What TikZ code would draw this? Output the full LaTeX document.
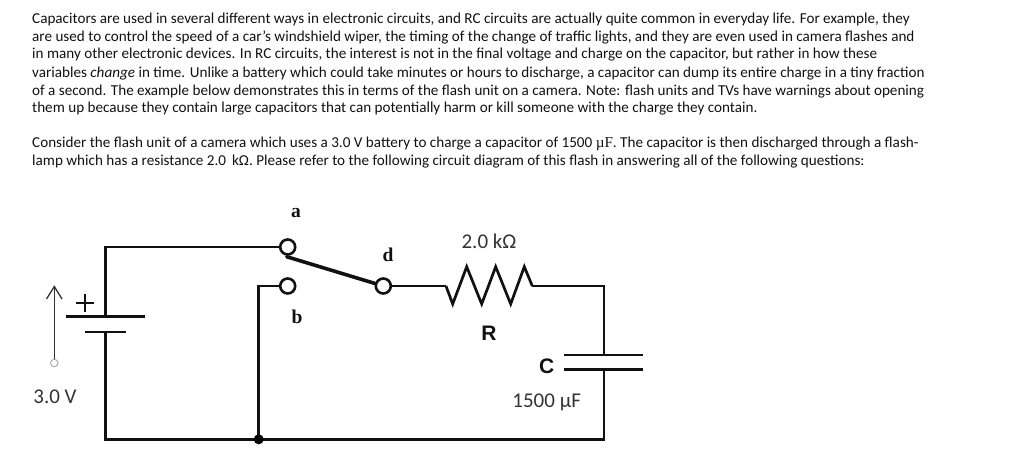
\documentclass[tikz,border=0pt]{standalone}
\usepackage{fontspec}
\setmainfont{Carlito}
\newfontfamily\labelserif{Liberation Serif}
\newfontfamily\labelsans{Liberation Sans}
\definecolor{ink}{HTML}{111111}
\definecolor{soft}{HTML}{333333}
\tikzset{
  para/.style={anchor=base west,inner sep=0pt,text=ink,font=\fontsize{15.15}{17}\selectfont},
  wire/.style={draw=ink,line width=2.7pt,line join=miter},
  plate/.style={draw=ink,line width=2.8pt},
  blade/.style={draw=ink,line width=3.6pt,line cap=round},
  terminal/.style={circle,draw=ink,line width=2.6pt,fill=white,minimum size=15pt,inner sep=0pt},
  junction/.style={circle,fill=black,minimum size=10pt,inner sep=0pt},
  letter/.style={inner sep=0pt,text=ink,font=\labelserif\bfseries\fontsize{19.5}{19}\selectfont},
  partname/.style={inner sep=0pt,text=ink,font=\labelsans\bfseries\fontsize{21}{21}\selectfont},
  value/.style={inner sep=0pt,text=soft,font=\fontsize{21}{21}\selectfont},
  corner/.style={inner sep=0pt,minimum size=0pt}
}
\begin{document}
\begin{tikzpicture}[x=1pt,y=-1pt]
\useasboundingbox (0,0) rectangle (1024,458);
\node[para] (l1) at (32,23.3) {Capacitors are used in several different ways in electronic circuits, and RC circuits are actually quite common in everyday life. For example, they};
\node[para] (l2) at (32,41) {are used to control the speed of a car’s windshield wiper, the timing of the change of traffic lights, and they are even used in camera flashes and};
\node[para] (l3) at (32,58.7) {in many other electronic devices. In RC circuits, the interest is not in the final voltage and charge on the capacitor, but rather in how these};
\node[para] (l4) at (32,77) {variables {\itshape change} in time. Unlike a battery which could take minutes or hours to discharge, a capacitor can dump its entire charge in a tiny fraction};
\node[para] (l5) at (32,95) {of a second. The example below demonstrates this in terms of the flash unit on a camera. Note: flash units and TVs have warnings about opening};
\node[para] (l6) at (32,112.5) {them up because they contain large capacitors that can potentially harm or kill someone with the charge they contain.};
\node[para] (l7) at (32,147.7) {Consider the flash unit of a camera which uses a 3.0 V battery to charge a capacitor of 1500 {\labelserif µF}. The capacitor is then discharged through a flash-};
\node[para] (l8) at (32,165.3) {lamp which has a resistance 2.0 \,kΩ. Please refer to the following circuit diagram of this flash in answering all of the following questions:};

% corners and junction
\coordinate (tl) at (105.3,247);
\coordinate (bl) at (105.3,439.3);
\coordinate (br) at (604,439.3);
\coordinate (tr) at (604,286);
\coordinate (bcorner) at (258.7,286);
\coordinate (battp) at (105.3,316.3);
\coordinate (battn) at (105.3,332);
\coordinate (capt) at (604,355);
\coordinate (capb) at (604,369.7);
\coordinate (rin) at (446,286);
\coordinate (rout) at (532.3,286);
\coordinate (bladeend) at (286.7,256.7);

% wires
\draw[wire] (battp) -- (tl) -- (287.7,247);
\draw[wire] (battn) -- (bl) -- (br) -- (capb);
\draw[wire] (capt) -- (tr) -- (rout);
\draw[wire] (rin) -- (452.7,304) -- (466.7,266.7) -- (481.7,304) -- (495.7,266.7) -- (510.7,304) -- (524.3,266.7) -- (rout);
\draw[wire] (258.7,439.3) -- (bcorner) -- (287.7,286);
\draw[wire] (383.3,286) -- (rin);

% battery and capacitor plates
\draw[plate] (66,316.3) -- (145,316.3);
\draw[plate] (85,332) -- (126,332);
\draw[plate] (564,355) -- (643,355);
\draw[plate] (564,369.7) -- (643,369.7);
\draw[ink,line width=2pt] (76,302.7) -- (94,302.7) (85,293.7) -- (85,311.7);

% terminals
\node[terminal] (a) at (287.7,247) {};
\node[terminal] (b) at (287.7,286) {};
\node[terminal] (d) at (383.3,286) {};
\node[junction] (j) at (258.7,439.3) {};
\draw[blade] (bladeend) -- (d);

% voltage arrow
\node[circle,draw=gray!70,line width=0.9pt,fill=white,minimum size=7.5pt,inner sep=0pt] (vfoot) at (54.3,363) {};
\coordinate (vtip) at (54.3,286.5);
\draw[soft,line width=1.3pt] (vfoot) -- (vtip);
\draw[soft,line width=1.3pt] (46.5,299) -- (vtip) -- (62,299);

% labels
\node[letter] (la) at (296,213) {a};
\node[letter] (lb) at (297,316.5) {b};
\node[letter] (ld) at (388,254.5) {d};
\node[partname] (lr) at (489,333) {R};
\node[partname] (lc) at (546.7,366) {C};
\node[value] (vv) at (55,396.5) {3.0 V};
\node[value] (vr) at (489,241.5) {2.0 kΩ};
\node[value] (vc) at (546.7,402) {1500 µF};
\end{tikzpicture}
\end{document}
